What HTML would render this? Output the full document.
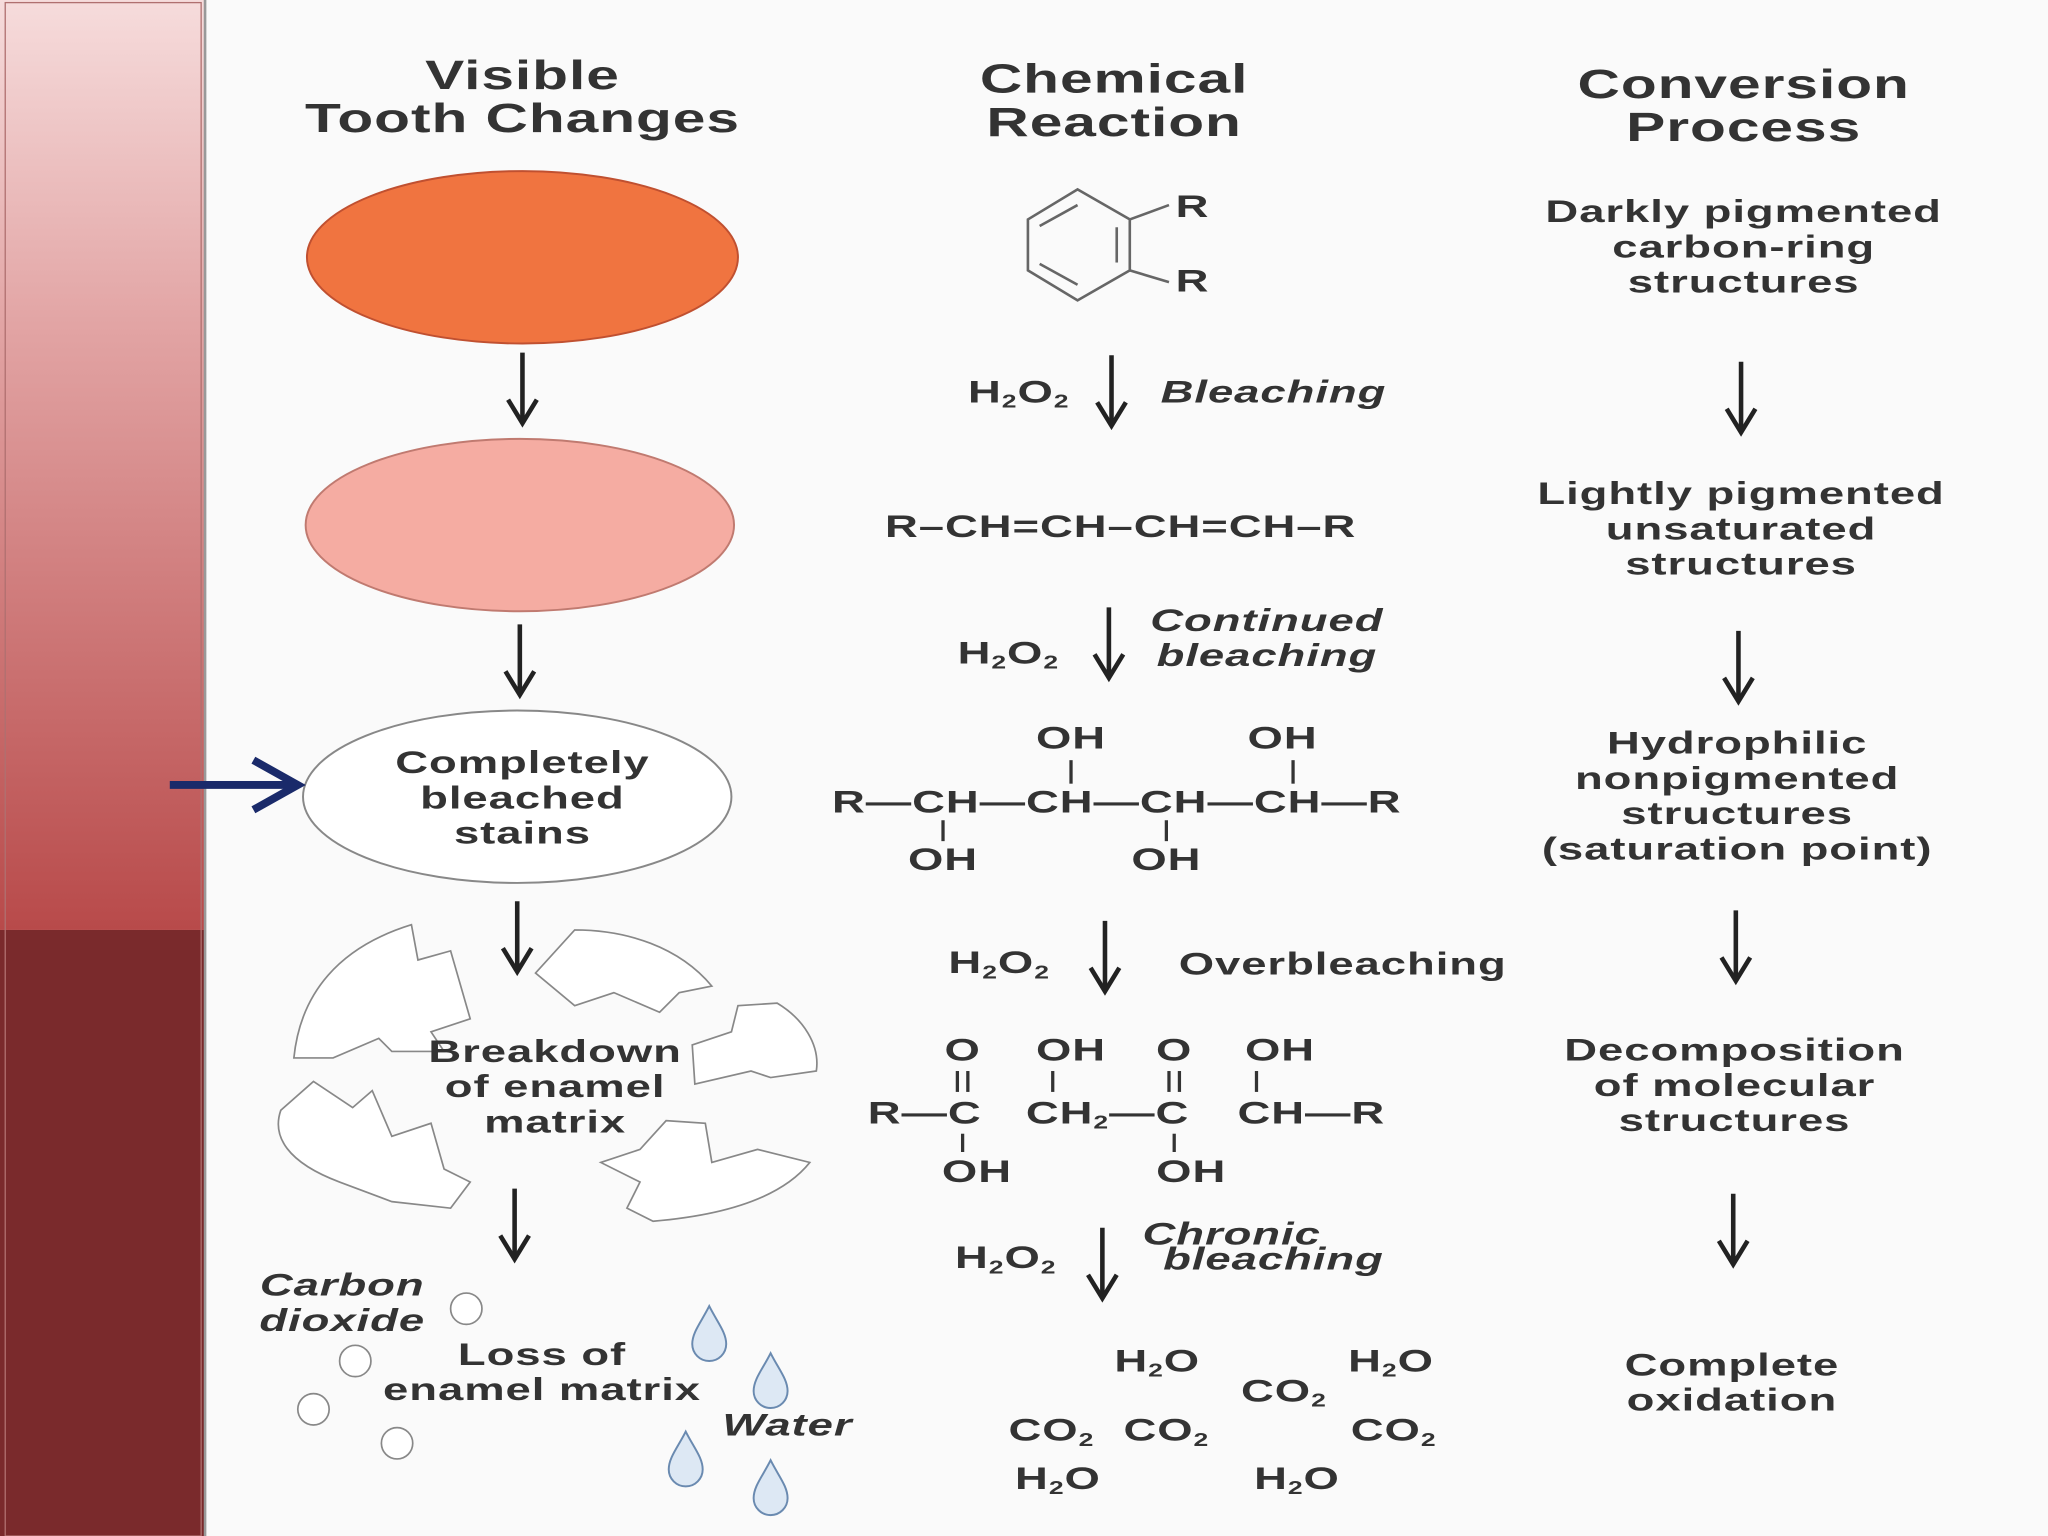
<!DOCTYPE html>
<html><head><meta charset="utf-8"><style>
html,body{margin:0;padding:0;background:#fafafa;}
svg{display:block}
text{font-family:"Liberation Sans",sans-serif;font-weight:bold;fill:#333;transform-box:fill-box;transform-origin:center;transform:scaleX(1.45);letter-spacing:0.5px}
.h{font-size:31px;text-anchor:middle}
.t{font-size:24px;text-anchor:middle}
.i{font-style:italic}
</style></head><body>
<svg width="2048" height="1536" viewBox="0 0 1568 1176" xmlns="http://www.w3.org/2000/svg">
<defs>
<linearGradient id="g" x1="0" y1="0" x2="0" y2="1">
<stop offset="0" stop-color="#f6dcdc"/><stop offset="0.35" stop-color="#e2a4a4"/><stop offset="1" stop-color="#b84a4a"/>
</linearGradient>
<g id="ar"><line x1="0" y1="0" x2="0" y2="52" stroke="#222" stroke-width="3.5"/><path d="M-11 36 L0 54 L11 36" fill="none" stroke="#222" stroke-width="3.5"/></g>
<path id="drop" d="M0 -22 C6 -10 13 -2 13 7 A13 13 0 0 1 -13 7 C-13 -2 -6 -10 0 -22Z" fill="#dde8f4" stroke="#6a8ab0" stroke-width="1.5"/>
</defs>
<rect width="1568" height="1176" fill="#fafafa"/>
<rect x="0" y="0" width="157" height="712" fill="url(#g)"/>
<rect x="0" y="712" width="157" height="464" fill="#7a2a2c"/>
<rect x="4" y="2" width="150" height="1174" fill="none" stroke="#b07070" stroke-width="1"/>
<line x1="157" y1="0" x2="157" y2="1176" stroke="#999" stroke-width="2"/>

<text class="h" x="400" y="68">Visible</text><text class="h" x="400" y="101">Tooth Changes</text>
<text class="h" x="853" y="71">Chemical</text><text class="h" x="853" y="104">Reaction</text>
<text class="h" x="1335" y="75">Conversion</text><text class="h" x="1335" y="108">Process</text>

<ellipse cx="400" cy="197" rx="165" ry="66" fill="#f07440" stroke="#c05030" stroke-width="1.5"/>
<use href="#ar" x="400" y="270"/>
<ellipse cx="398" cy="402" rx="164" ry="66" fill="#f5aca2" stroke="#c07a70" stroke-width="1.5"/>
<use href="#ar" x="398" y="478"/>
<ellipse cx="396" cy="610" rx="164" ry="66" fill="#fff" stroke="#888" stroke-width="1.5"/>
<text class="t" x="400" y="592">Completely</text><text class="t" x="400" y="619">bleached</text><text class="t" x="400" y="646">stains</text>
<line x1="130" y1="601" x2="226" y2="601" stroke="#1a2a6a" stroke-width="6"/>
<path d="M194 582 L228 601 L194 620" fill="none" stroke="#1a2a6a" stroke-width="6"/>
<use href="#ar" x="396" y="690"/>

<g fill="#fff" stroke="#888" stroke-width="1.3">
<path d="M225 810 C230 760 260 725 315 708 L320 735 L345 728 L360 780 L330 790 L340 805 L300 805 L290 795 L255 810 Z"/>
<path d="M410 745 L440 712 C480 712 520 725 545 755 L520 760 L505 775 L470 760 L440 770 Z"/>
<path d="M530 800 L560 790 L565 770 L595 768 C615 780 628 800 625 820 L590 825 L575 820 L532 830 Z"/>
<path d="M215 850 C208 870 220 890 260 905 L300 920 L345 925 L360 905 L340 895 L330 860 L300 870 L285 835 L270 848 L240 828 Z"/>
<path d="M460 890 L490 880 L510 858 L540 860 L545 890 L580 880 L620 890 C600 915 560 930 500 935 L480 925 L490 905 Z"/>
</g>
<text class="t" x="425" y="813">Breakdown</text><text class="t" x="425" y="840">of enamel</text><text class="t" x="425" y="867">matrix</text>
<use href="#ar" x="394" y="910"/>
<text class="t i" x="262" y="992">Carbon</text><text class="t i" x="262" y="1019">dioxide</text>
<g fill="#fff" stroke="#888" stroke-width="1.3"><circle cx="357" cy="1002" r="12"/><circle cx="272" cy="1042" r="12"/><circle cx="240" cy="1079" r="12"/><circle cx="304" cy="1105" r="12"/></g>
<text class="t" x="415" y="1045">Loss of</text><text class="t" x="415" y="1072">enamel matrix</text>
<use href="#drop" x="543" y="1022"/><use href="#drop" x="590" y="1058"/><use href="#drop" x="525" y="1118"/><use href="#drop" x="590" y="1140"/>
<text class="t i" x="603" y="1099">Water</text>

<g fill="none" stroke="#666" stroke-width="2">
<polygon points="865,168 825,145 787,168 787,207 825,230 865,207"/>
<line x1="855" y1="174" x2="855" y2="201"/><line x1="825" y1="157" x2="796" y2="173"/><line x1="825" y1="218" x2="796" y2="202"/>
<line x1="865" y1="168" x2="895" y2="157"/><line x1="865" y1="207" x2="895" y2="216"/>
</g>
<text class="t" x="913" y="166">R</text><text class="t" x="913" y="223">R</text>

<text class="t" x="780" y="308">H<tspan font-size="14" dy="4">2</tspan><tspan dy="-4">O</tspan><tspan font-size="14" dy="4">2</tspan></text>
<use href="#ar" x="851" y="272"/>
<text class="t i" x="975" y="308">Bleaching</text>
<text class="t" x="858" y="411">R–CH=CH–CH=CH–R</text>

<text class="t" x="772" y="508">H<tspan font-size="14" dy="4">2</tspan><tspan dy="-4">O</tspan><tspan font-size="14" dy="4">2</tspan></text>
<use href="#ar" x="849" y="465"/>
<text class="t i" x="970" y="483">Continued</text><text class="t i" x="970" y="510">bleaching</text>

<text class="t" x="820" y="573">OH</text><text class="t" x="982" y="573">OH</text>
<g stroke="#333" stroke-width="2.5"><line x1="820" y1="582" x2="820" y2="600"/><line x1="990" y1="582" x2="990" y2="600"/><line x1="722" y1="628" x2="722" y2="644"/><line x1="893" y1="628" x2="893" y2="644"/></g>
<text class="t" x="855" y="622">R—CH—CH—CH—CH—R</text>
<text class="t" x="722" y="666">OH</text><text class="t" x="893" y="666">OH</text>

<text class="t" x="765" y="745">H<tspan font-size="14" dy="4">2</tspan><tspan dy="-4">O</tspan><tspan font-size="14" dy="4">2</tspan></text>
<use href="#ar" x="846" y="705"/>
<text class="t" x="1028" y="746">Overbleaching</text>

<text class="t" x="737" y="812">O</text><text class="t" x="820" y="812">OH</text><text class="t" x="899" y="812">O</text><text class="t" x="980" y="812">OH</text>
<g stroke="#333" stroke-width="2.5"><line x1="733" y1="820" x2="733" y2="836"/><line x1="741" y1="820" x2="741" y2="836"/><line x1="806" y1="820" x2="806" y2="836"/><line x1="895" y1="820" x2="895" y2="836"/><line x1="903" y1="820" x2="903" y2="836"/><line x1="962" y1="820" x2="962" y2="836"/><line x1="737" y1="868" x2="737" y2="882"/><line x1="899" y1="868" x2="899" y2="882"/></g>
<text class="t" x="708" y="860">R—C</text>
<text class="t" x="848" y="860">CH<tspan font-size="14" dy="4">2</tspan><tspan dy="-4">—C</tspan></text>
<text class="t" x="1004" y="860">CH—R</text>
<text class="t" x="748" y="905">OH</text><text class="t" x="912" y="905">OH</text>

<text class="t" x="770" y="971">H<tspan font-size="14" dy="4">2</tspan><tspan dy="-4">O</tspan><tspan font-size="14" dy="4">2</tspan></text>
<use href="#ar" x="844" y="940"/>
<text class="t i" x="943" y="953">Chronic</text><text class="t i" x="975" y="972">bleaching</text>

<text class="t" x="886" y="1050">H<tspan font-size="14" dy="4">2</tspan><tspan dy="-4">O</tspan></text>
<text class="t" x="1065" y="1050">H<tspan font-size="14" dy="4">2</tspan><tspan dy="-4">O</tspan></text>
<text class="t" x="983" y="1073">CO<tspan font-size="14" dy="4">2</tspan></text>
<text class="t" x="805" y="1103">CO<tspan font-size="14" dy="4">2</tspan></text>
<text class="t" x="893" y="1103">CO<tspan font-size="14" dy="4">2</tspan></text>
<text class="t" x="1067" y="1103">CO<tspan font-size="14" dy="4">2</tspan></text>
<text class="t" x="810" y="1140">H<tspan font-size="14" dy="4">2</tspan><tspan dy="-4">O</tspan></text>
<text class="t" x="993" y="1140">H<tspan font-size="14" dy="4">2</tspan><tspan dy="-4">O</tspan></text>

<text class="t" x="1335" y="170">Darkly pigmented</text><text class="t" x="1335" y="197">carbon-ring</text><text class="t" x="1335" y="224">structures</text>
<use href="#ar" x="1333" y="277"/>
<text class="t" x="1333" y="386">Lightly pigmented</text><text class="t" x="1333" y="413">unsaturated</text><text class="t" x="1333" y="440">structures</text>
<use href="#ar" x="1331" y="483"/>
<text class="t" x="1330" y="577">Hydrophilic</text><text class="t" x="1330" y="604">nonpigmented</text><text class="t" x="1330" y="631">structures</text><text class="t" x="1330" y="658">(saturation point)</text>
<use href="#ar" x="1329" y="697"/>
<text class="t" x="1328" y="812">Decomposition</text><text class="t" x="1328" y="839">of molecular</text><text class="t" x="1328" y="866">structures</text>
<use href="#ar" x="1327" y="914"/>
<text class="t" x="1326" y="1053">Complete</text><text class="t" x="1326" y="1080">oxidation</text>
</svg>
</body></html>
